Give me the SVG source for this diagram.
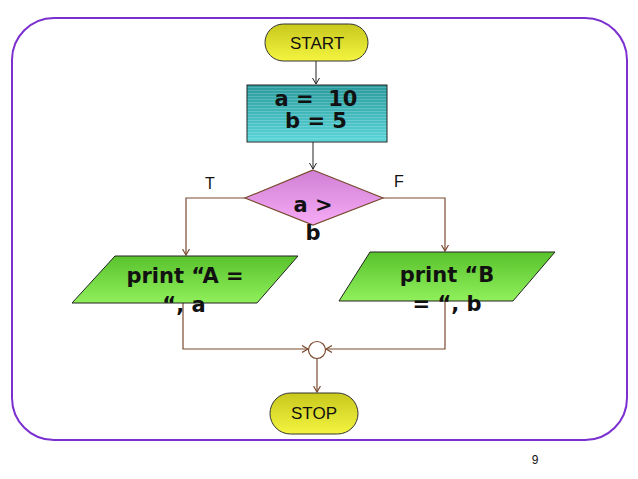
<svg xmlns="http://www.w3.org/2000/svg" width="638" height="479" viewBox="0 0 638 479">
<style>
.lbl{font-family:"Liberation Sans",Arial,sans-serif;font-size:17px;fill:#111;text-anchor:middle}
.tf{font-family:"Liberation Sans",Arial,sans-serif;font-size:16px;fill:#111;text-anchor:middle}
.big{font-family:"DejaVu Sans",Verdana,sans-serif;font-weight:bold;font-size:21px;fill:#111;text-anchor:middle;white-space:pre}
.blk{fill:none;stroke:#222;stroke-width:1}
.brn{fill:none;stroke:#7a4a30;stroke-width:1.2}
</style>
<defs>
<linearGradient id="gy" x1="0" y1="0" x2="0" y2="1"><stop offset="0" stop-color="#c8c81e"/><stop offset="1" stop-color="#f4f440"/></linearGradient>
<linearGradient id="gt" x1="0" y1="0" x2="0" y2="1"><stop offset="0" stop-color="#2a9a9c"/><stop offset="1" stop-color="#5ad6da"/></linearGradient>
<linearGradient id="gp" x1="0" y1="0" x2="0" y2="1"><stop offset="0" stop-color="#d080d4"/><stop offset="1" stop-color="#f6aaf6"/></linearGradient>
<linearGradient id="gg" x1="0" y1="0" x2="0" y2="1"><stop offset="0" stop-color="#58c22c"/><stop offset="1" stop-color="#90f05c"/></linearGradient>
<pattern id="stripes" width="4" height="3" patternUnits="userSpaceOnUse"><rect width="4" height="1" fill="#ffffff" fill-opacity="0.18"/></pattern>
<marker id="ab" markerWidth="8" markerHeight="8" refX="6" refY="4" orient="auto" markerUnits="userSpaceOnUse"><path d="M0,0.5 L6,4 L0,7.5" fill="none" stroke="#222" stroke-width="1"/></marker>
<marker id="ar" markerWidth="8" markerHeight="8" refX="6" refY="4" orient="auto" markerUnits="userSpaceOnUse"><path d="M0,0.5 L6,4 L0,7.5" fill="none" stroke="#7a4a30" stroke-width="1.2"/></marker>
</defs>
<rect x="0" y="0" width="638" height="479" fill="#fff"/>
<rect x="12" y="18" width="615" height="422" rx="42" ry="42" fill="none" stroke="#7b2fd0" stroke-width="2"/>
<g id="connectors">
<path class="blk" d="M316,61 V84" marker-end="url(#ab)"/>
<path class="blk" d="M313,142 V169" marker-end="url(#ab)"/>
<path class="brn" d="M245,198 H186 V255" marker-end="url(#ar)"/>
<path class="brn" d="M383,198 H445 V251" marker-end="url(#ar)"/>
<path class="brn" d="M183,303 V349 H308" marker-end="url(#ar)"/>
<path class="brn" d="M445,301 V349 H326" marker-end="url(#ar)"/>
<path class="brn" d="M317,358 V392" marker-end="url(#ar)"/>
<text class="tf" x="210" y="189">T</text>
<text class="tf" x="399" y="187">F</text>
</g>
<g id="start">
<rect x="265" y="24" width="103" height="37" rx="18.5" fill="url(#gy)" stroke="#333" stroke-width="1"/>
<text class="lbl" x="317" y="49">START</text>
</g>
<g id="assign">
<rect x="247" y="85" width="140" height="57" fill="url(#gt)" stroke="#222" stroke-width="1"/>
<rect x="247.5" y="85.5" width="139" height="56" fill="url(#stripes)"/>
<text class="big" x="316" y="106" xml:space="preserve">a =  10</text>
<text class="big" x="316" y="128">b = 5</text>
</g>
<g id="decision">
<polygon points="313,170 383,198 313,225 245,198" fill="url(#gp)" stroke="#7a4a30" stroke-width="1.2"/>
<text class="big" x="313" y="212">a &gt;</text>
<text class="big" x="313" y="240">b</text>
</g>
<g id="printA">
<polygon points="115,256 298,256 257,303 72,303" fill="url(#gg)" stroke="#222" stroke-width="1"/>
<text class="big" x="185" y="283">print “A =</text>
<text class="big" x="184" y="312">“, a</text>
</g>
<g id="printB">
<polygon points="370,252 555,252 513,301 339,301" fill="url(#gg)" stroke="#222" stroke-width="1"/>
<text class="big" x="447" y="282">print “B</text>
<text class="big" x="447" y="311">= “, b</text>
</g>
<g id="join">
<circle cx="317" cy="350" r="8.5" fill="#fff" stroke="#7a4a30" stroke-width="1.2"/>
</g>
<g id="stop">
<rect x="270" y="393" width="88" height="41" rx="20.5" fill="url(#gy)" stroke="#333" stroke-width="1"/>
<text class="lbl" x="314" y="419">STOP</text>
</g>
<text x="535" y="464" font-family="Liberation Sans, Arial, sans-serif" font-size="12" fill="#111" text-anchor="middle">9</text>
</svg>
